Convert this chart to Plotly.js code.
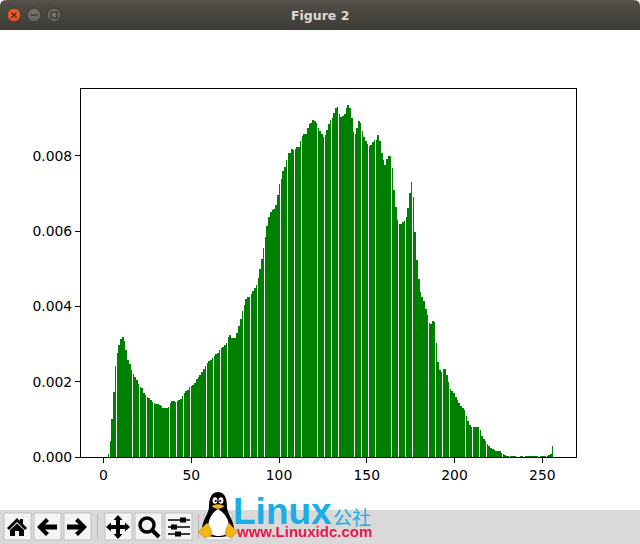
<!DOCTYPE html>
<html><head><meta charset="utf-8">
<script src="https://cdn.plot.ly/plotly-3.0.1.min.js"></script>
<style>html,body{margin:0;padding:0;background:#fff;overflow:hidden}#c{width:640px;height:544px}</style>
</head><body><div id="c"></div>
<script>
const density = [
0,0,0,0.00008,0.00042,0.00101,0.00173,0.00242,0.00276,0.00298,
0.00314,0.00319,0.00308,0.00284,0.00258,0.00247,0.00231,0.00221,0.00213,0.00205,
0.00194,0.00186,0.00183,0.0017,0.00165,0.0016,0.00157,0.00152,0.00146,0.00143,
0.00141,0.00141,0.00138,0.00136,0.0013,0.0013,0.0013,0.00134,0.00144,0.00148,
0.00149,0.00146,0.00148,0.00152,0.00155,0.00162,0.00171,0.00175,0.00178,0.00185,
0.0019,0.00192,0.00198,0.00207,0.00213,0.00217,0.00226,0.00234,0.00242,0.00249,
0.00255,0.00258,0.00263,0.00268,0.00274,0.00277,0.00284,0.0029,0.00292,0.00297,
0.00304,0.00318,0.00323,0.00316,0.00316,0.00316,0.0033,0.00348,0.00368,0.00388,
0.00404,0.0042,0.00425,0.00425,0.00433,0.00441,0.00449,0.00457,0.00476,0.005,
0.00526,0.00556,0.00585,0.00614,0.00638,0.00651,0.00657,0.00659,0.0067,0.00696,
0.00726,0.00739,0.0076,0.00771,0.00789,0.00808,0.00808,0.00819,0.00816,0.00819,
0.00823,0.00824,0.0084,0.00853,0.00859,0.00859,0.00874,0.00885,0.00888,0.00896,
0.00893,0.00888,0.00874,0.00867,0.00859,0.0085,0.00856,0.00869,0.00885,0.00896,
0.00901,0.00914,0.00928,0.0093,0.00912,0.00904,0.00906,0.00912,0.00928,0.00936,
0.00928,0.00901,0.00864,0.00859,0.00874,0.00893,0.00888,0.00867,0.0085,0.0084,
0.00832,0.00827,0.00829,0.00837,0.00843,0.00843,0.00856,0.0084,0.00808,0.00789,
0.00776,0.00792,0.008,0.008,0.00768,0.0071,0.00665,0.0063,0.00619,0.00619,
0.00625,0.00627,0.00638,0.00662,0.00702,0.00731,0.00691,0.00598,0.00524,0.00473,
0.00439,0.00425,0.00415,0.00393,0.00377,0.00355,0.00354,0.00361,0.00359,0.00303,
0.00252,0.00231,0.00226,0.00234,0.00234,0.00218,0.00199,0.00181,0.00175,0.0017,
0.00159,0.00152,0.00144,0.00136,0.0013,0.00125,0.00109,0.00096,0.00085,0.0008,
0.0008,0.0008,0.0008,0.0008,0.00072,0.00056,0.00048,0.00043,0.00035,0.00029,
0.00024,0.00021,0.00019,0.00016,0.00016,0.00016,0.00011,0.00008,0.00005,0.00003,
0.00003,0.00003,0.00003,0.00003,0.00003,0,0,0.00003,0.00003,0.00001,
0.00002,0.00002,0.00002,0.00002,0.00002,0.00002,0.00002,0,0.00002,0.00003,
0.00003,0.00003,0.00003,0.00006,0.00008,0.00029
];
const firstEdge = -0.5127;
const binStep = 1.00375;
const barWidth = 0.9013;
const bins = density.map((_, i) => firstEdge + binStep * i + barWidth / 2);
const xTicks = [0,50,100,150,200,250];
const yTicks = [0,0.002,0.004,0.006,0.008];
const yTickLabels = ['0.000','0.002','0.004','0.006','0.008'];
const windowTitle = 'Figure 2';
const logoWord = 'Linux';
const logoCjk = '公社';
const logoUrl = 'www.Linuxidc.com';

const W = 640, H = 544, L = 81, R = 576, T = 89, B = 457;
const px = x => (x - L) / (R - L);
const py = y => (B - y) / (B - T);
const rect = (x0, y0, x1, y1, fill, line) => ({type:'rect', xref:'paper', yref:'paper', layer:'below',
  x0:px(x0), x1:px(x1), y0:py(y0), y1:py(y1), fillcolor:fill, line:{width:line?1:0, color:line||'rgba(0,0,0,0)'}});
const svg = (w, h, body) => 'data:image/svg+xml,' + encodeURIComponent(
  `<svg xmlns="http://www.w3.org/2000/svg" width="${w}" height="${h}" viewBox="0 0 ${w} ${h}">${body}</svg>`);
const img = (x, y, w, h, body) => ({source:svg(w,h,body), xref:'paper', yref:'paper', x:px(x), y:py(y),
  sizex:w/(R-L), sizey:h/(B-T), xanchor:'left', yanchor:'top', sizing:'stretch', layer:'above'});
const txt = (x, y, text, size, color, family, bold, anchor) => ({xref:'paper', yref:'paper', x:px(x), y:py(y),
  text: bold ? '<b>'+text+'</b>' : text, showarrow:false, xanchor:anchor||'left', yanchor:'middle',
  font:{size, color, family}, borderpad:0});

const icons = {
 home:'<path d="M1 13 L11 3 L14 6 V4 H17 V9 L21 13 L19 15 L11 7 L3 15 Z M4 15 L11 8.500 L18 15 V21 H13 V16 H9 V21 H4 Z" fill="#000"/>',
 back:'<path d="M10 3 L13 6 L9 9.500 H21 V14.500 H9 L13 18 L10 21 L1 12 Z" fill="#000"/>',
 fwd:'<path d="M12 3 L9 6 L13 9.500 H1 V14.500 H13 L9 18 L12 21 L21 12 Z" fill="#000"/>',
 move:'<path d="M12 0 L16.500 5 H14 V10 H19 V7.500 L24 12 L19 16.500 V14 H14 V19 H16.500 L12 24 L7.500 19 H10 V14 H5 V16.500 L0 12 L5 7.500 V10 H10 V5 H7.500 Z" fill="#000"/>',
 zoom:'<circle cx="10" cy="10" r="7" fill="none" stroke="#000" stroke-width="3.400"/><path d="M15 15 L22 22" stroke="#000" stroke-width="4"/>',
 cfg:'<g stroke="#000" stroke-width="1.600"><path d="M1 5 H23 M1 12 H23 M1 19 H23"/></g><g fill="#000"><rect x="13" y="2.500" width="6" height="5"/><rect x="4" y="9.500" width="6" height="5"/><rect x="8" y="16.500" width="6" height="5"/></g>'
};
const penguin = `
<path d="M20 1 C12 1 11 10 11 16 C11 22 4 30 4 38 C4 44 10 46 20 46 C30 46 36 44 36 38 C36 30 29 22 29 16 C29 10 28 1 20 1 Z" fill="#000"/>
<path d="M20 18 C13 22 10 30 10 37 C10 43 15 45 21 45 C27 45 31 42 31 36 C31 29 27 22 20 18 Z" fill="#fff"/>
<ellipse cx="17" cy="9.500" rx="2.400" ry="3.200" fill="#fff"/><ellipse cx="23" cy="9.500" rx="2.400" ry="3.200" fill="#fff"/>
<circle cx="17.800" cy="10" r="1.100" fill="#000"/><circle cx="22.300" cy="10" r="1.100" fill="#000"/>
<path d="M13.500 15 Q20 11.500 26.500 15 Q20 21 13.500 15 Z" fill="#f5b50f"/>
<path d="M0 41 L9 32 L13 38 L14 44 L7 47 Z M27 44 L28 38 L31 32 L39 41 L33 47 Z" fill="#f5b50f" stroke="#b98410" stroke-width=".5"/>`;
const titleBar = `
<defs><linearGradient id="g" x1="0" y1="0" x2="0" y2="1"><stop offset="0" stop-color="#5a564f"/><stop offset=".1" stop-color="#504d46"/><stop offset="1" stop-color="#3e3c37"/></linearGradient>
<radialGradient id="r" cx=".5" cy=".4" r=".6"><stop offset="0" stop-color="#f26b35"/><stop offset="1" stop-color="#d8481c"/></radialGradient>
<radialGradient id="s" cx=".5" cy=".4" r=".6"><stop offset="0" stop-color="#7a7870"/><stop offset="1" stop-color="#5e5c55"/></radialGradient></defs>
<rect width="640" height="30" fill="#fff"/>
<path d="M0 30 V6 Q0 0 6 0 H634 Q640 0 640 6 V30 Z" fill="url(#g)"/>
<circle cx="14" cy="15" r="7" fill="url(#r)" stroke="#3a3833"/><path d="M11.500 12.500 L16.500 17.500 M16.500 12.500 L11.500 17.500" stroke="#4a2010" stroke-width="1.300"/>
<circle cx="34" cy="15" r="7" fill="url(#s)" stroke="#3a3833"/><path d="M30.500 15 H37.500" stroke="#3a3833" stroke-width="1.500"/>
<circle cx="54" cy="15" r="7" fill="url(#s)" stroke="#3a3833"/><rect x="51" y="12" width="6" height="6" fill="none" stroke="#3a3833" stroke-width="1.300"/>`;

const btnX = [4,34,64,105,135,165,205];
const shapes = [
  rect(0,510,W,H,'#d9d9d9'),
  rect(97,514,98,539,'#b5b5b5'),
  rect(198,514,199,539,'#b5b5b5'),
  ...btnX.map(x => rect(x,513,x+27,540,'#f4f4f4','#c0c0c0'))
];
const images = [
  img(0,0,W,30,titleBar),
  img(6,515,22,24,icons.home), img(36,515,22,24,icons.back), img(66,515,22,24,icons.fwd),
  img(106,515,24,24,icons.move), img(137,515,24,24,icons.zoom), img(167,515,24,24,icons.cfg),
  img(198,491,40,50,penguin)
];
const annotations = [
  txt(320,15,windowTitle,12.5,'#dfdbd2','DejaVu Sans',true,'center'),
  txt(232,511,logoWord,37,'#19aee6','Liberation Sans',true),
  txt(332,516,logoCjk,19,'#19aee6','Noto Sans CJK SC',false),
  txt(235,531,logoUrl,15,'#e8174b','Liberation Sans',true)
];

Plotly.newPlot('c', [{
  type:'bar', x:bins, y:density, width:barWidth, marker:{color:'rgba(0,128,0,0.999)', line:{width:0}}, hoverinfo:'skip'
}], {
  width:W, height:H, margin:{l:L, r:W-R, t:T, b:H-B, pad:0},
  paper_bgcolor:'#fff', plot_bgcolor:'#fff', showlegend:false, bargap:0,
  font:{family:'DejaVu Sans', size:13.9, color:'#000'},
  xaxis:{range:[-12.8,269.2], tickmode:'array', tickvals:xTicks, ticktext:xTicks.map(String), ticks:'outside',
    ticklen:5, tickwidth:1, tickcolor:'#000', showgrid:false, zeroline:false, showline:true, linecolor:'#000', linewidth:1, mirror:true},
  yaxis:{range:[0,0.00978], tickmode:'array', tickvals:yTicks, ticktext:yTickLabels, ticks:'outside',
    ticklen:5, tickwidth:1, tickcolor:'#000', showgrid:false, zeroline:false, showline:true, linecolor:'#000', linewidth:1, mirror:true},
  shapes, images, annotations
}, {displayModeBar:false});
</script></body></html>
